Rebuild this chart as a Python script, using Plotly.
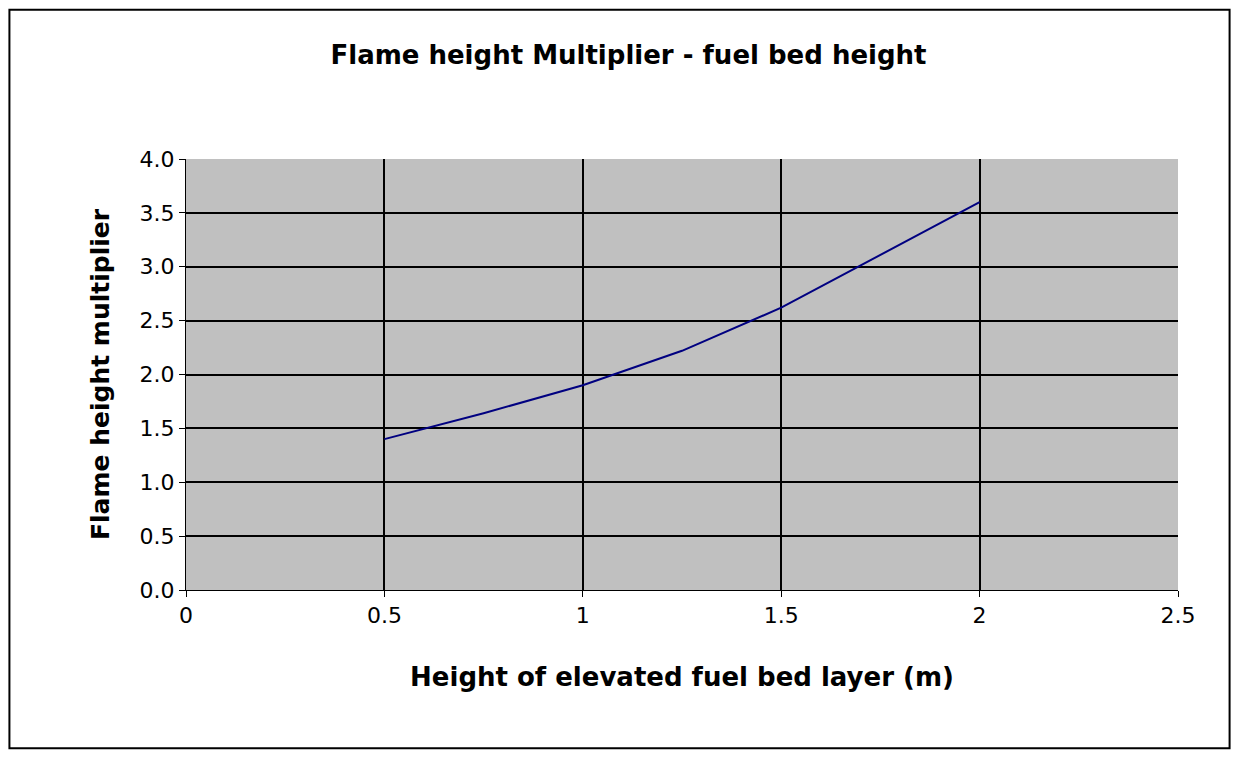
import plotly.graph_objects as go

x_vals = [0.5, 0.75, 1.0, 1.25, 1.5, 1.75, 2.0]
y_vals = [1.40, 1.64, 1.90, 2.22, 2.62, 3.11, 3.60]
title = "Flame height Multiplier - fuel bed height"
x_title = "Height of elevated fuel bed layer (m)"
y_title = "Flame height multiplier"

fig = go.Figure(go.Scatter(x=x_vals, y=y_vals, mode="lines",
                           line=dict(color="#000080", width=2)))
font = "DejaVu Sans"
fig.update_layout(
    width=1241, height=760, paper_bgcolor="white", plot_bgcolor="#c0c0c0",
    margin=dict(l=178, r=71, t=151, b=178), showlegend=False,
    title=dict(text="<b>" + title + "</b>", x=0.5, xanchor="center", y=0.938, yanchor="middle",
               font=dict(family=font, size=26, color="black")),
    font=dict(family=font, color="black"),
)
fig.update_xaxes(range=[0, 2.5], tickvals=[0, 0.5, 1, 1.5, 2, 2.5],
                 ticktext=["0", "0.5", "1", "1.5", "2", "2.5"],
                 showgrid=True, gridcolor="black", gridwidth=2,
                 showline=True, linecolor="black", linewidth=1, mirror=False,
                 ticks="outside", ticklen=6, tickcolor="black",
                 tickfont=dict(size=22), zeroline=False,
                 title=dict(text="<b>" + x_title + "</b>", font=dict(size=26), standoff=40))
fig.update_yaxes(range=[0, 4.0], tickvals=[0, 0.5, 1, 1.5, 2, 2.5, 3, 3.5, 4],
                 tickformat=".1f",
                 showgrid=True, gridcolor="black", gridwidth=2,
                 showline=True, linecolor="black", linewidth=1,
                 ticks="outside", ticklen=6, tickcolor="black",
                 tickfont=dict(size=22), zeroline=False,
                 title=dict(text="<b>" + y_title + "</b>", font=dict(size=25), standoff=22))
fig.add_shape(type="rect", xref="paper", yref="paper",
              x0=-0.178, x1=1.052, y0=-0.367, y1=1.346,
              line=dict(color="black", width=2), fillcolor="rgba(0,0,0,0)")
fig.write_html("out.html")
